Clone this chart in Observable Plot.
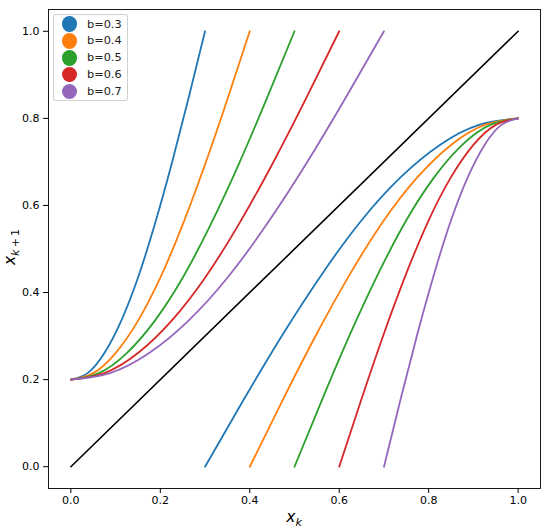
<!DOCTYPE html>
<html>
<head>
<meta charset="utf-8">
<script src="https://cdn.jsdelivr.net/npm/d3@7"></script>
<script src="https://cdn.jsdelivr.net/npm/@observablehq/plot@0.6"></script>
<style>
  html, body { margin: 0; padding: 0; background: #fff; }
  #wrap { position: relative; width: 550px; height: 530px; font-family: "DejaVu Sans", sans-serif; }
  #legend { position: absolute; left: 53px; top: 14px; width: 75px; height: 87px; box-sizing: border-box;
    border: 1px solid rgba(204,204,204,0.9); border-radius: 3px; background: rgba(255,255,255,0.8); }
  .row { position: absolute; left: 0; width: 73px; height: 17px; }
  .dot { position: absolute; left: 7.5px; top: 0.75px; width: 15.5px; height: 15.5px; border-radius: 50%; }
  .lab { position: absolute; left: 33px; top: 0; font-size: 11.3px; color: #222; white-space: nowrap; line-height: 17px; }
</style>
</head>
<body>
<div id="wrap"></div>
<script>
// ---- data ----
const bValues = [0.3, 0.4, 0.5, 0.6, 0.7];
const bLabels = ["b=0.3", "b=0.4", "b=0.5", "b=0.6", "b=0.7"];
const colors = ["#1f77b4", "#ff7f0e", "#2ca02c", "#d62728", "#9467bd"];

// left branch: from (0, 0.2) up to (b, 1.0)
const leftY = [0.2, 0.215, 0.261, 0.335, 0.434, 0.556, 0.694, 0.844, 1.0];
const leftX03 = [0, 0.0375, 0.075, 0.1125, 0.15, 0.1875, 0.225, 0.2625, 0.3];
const leftX04 = [0, 0.05, 0.1, 0.15, 0.2, 0.25, 0.3, 0.35, 0.4];
const leftX05 = [0, 0.0625, 0.125, 0.1875, 0.25, 0.3125, 0.375, 0.4375, 0.5];
const leftX06 = [0, 0.075, 0.15, 0.225, 0.3, 0.375, 0.45, 0.525, 0.6];
const leftX07 = [0, 0.0875, 0.175, 0.2625, 0.35, 0.4375, 0.525, 0.6125, 0.7];

// right branch: from (b, 0) up to (1, 0.8)
const rightY = [0, 0.156, 0.306, 0.444, 0.566, 0.665, 0.739, 0.785, 0.8];
const rightX03 = [0.3, 0.3875, 0.475, 0.5625, 0.65, 0.7375, 0.825, 0.9125, 1.0];
const rightX04 = [0.4, 0.475, 0.55, 0.625, 0.7, 0.775, 0.85, 0.925, 1.0];
const rightX05 = [0.5, 0.5625, 0.625, 0.6875, 0.75, 0.8125, 0.875, 0.9375, 1.0];
const rightX06 = [0.6, 0.65, 0.7, 0.75, 0.8, 0.85, 0.9, 0.95, 1.0];
const rightX07 = [0.7, 0.7375, 0.775, 0.8125, 0.85, 0.8875, 0.925, 0.9625, 1.0];

// identity line
const diagX = [0, 1];
const diagY = [0, 1];

const ticks = [0, 0.2, 0.4, 0.6, 0.8, 1.0];

// ---- build table ----
const leftXs = [leftX03, leftX04, leftX05, leftX06, leftX07];
const rightXs = [rightX03, rightX04, rightX05, rightX06, rightX07];
const rows = [];
bLabels.forEach((lab, i) => {
  leftXs[i].forEach((x, j) => rows.push({b: lab, seg: lab + "L", x, y: leftY[j]}));
  rightXs[i].forEach((x, j) => rows.push({b: lab, seg: lab + "R", x, y: rightY[j]}));
});
const diag = diagX.map((x, i) => ({x, y: diagY[i]}));

const fmt = d3.format(".1f");
const chart = Plot.plot({
  width: 550,
  height: 530,
  marginLeft: 48,
  marginRight: 10,
  marginTop: 9,
  marginBottom: 42,
  style: {fontFamily: "DejaVu Sans, sans-serif", fontSize: "11px", color: "#000", background: "#fff"},
  x: {domain: [-0.05, 1.05]},
  y: {domain: [-0.05, 1.05]},
  color: {domain: bLabels, range: colors},
  marks: [
    Plot.line(diag, {x: "x", y: "y", stroke: "#000", strokeWidth: 1.6}),
    Plot.line(rows, {x: "x", y: "y", z: "seg", stroke: "b", strokeWidth: 1.8, curve: "natural"}),
    Plot.frame({stroke: "#000", strokeWidth: 0.9}),
    Plot.axisX({ticks, tickFormat: fmt, tickSize: 5, tickPadding: 3, label: null, fontSize: 11}),
    Plot.axisY({ticks, tickFormat: fmt, tickSize: 5, tickPadding: 4, label: null, fontSize: 11})
  ]
});
const wrap = document.getElementById("wrap");
wrap.appendChild(chart);

// axis titles (mathtext-like)
const svg = d3.select(chart);
const xt = svg.append("text")
  .attr("x", 294).attr("y", 522)
  .attr("text-anchor", "middle")
  .attr("font-family", "DejaVu Sans, sans-serif")
  .attr("font-size", 15.5)
  .attr("fill", "#000");
xt.append("tspan").attr("font-style", "italic").text("x");
xt.append("tspan").attr("font-style", "italic").attr("font-size", 11).attr("dy", 3.5).text("k");

const yt = svg.append("text")
  .attr("transform", "translate(15,247) rotate(-90)")
  .attr("text-anchor", "middle")
  .attr("font-family", "DejaVu Sans, sans-serif")
  .attr("font-size", 15.5)
  .attr("fill", "#000");
yt.append("tspan").attr("font-style", "italic").text("x");
yt.append("tspan").attr("font-style", "italic").attr("font-size", 11).attr("dy", 3.5).text("k");
yt.append("tspan").attr("font-size", 11).text("\u2009+\u20091");

// legend
const legend = document.createElement("div");
legend.id = "legend";
bLabels.forEach((lab, i) => {
  const row = document.createElement("div");
  row.className = "row";
  row.style.top = (0.5 + i * 16.9) + "px";
  const dot = document.createElement("div");
  dot.className = "dot";
  dot.style.background = colors[i];
  const t = document.createElement("div");
  t.className = "lab";
  t.textContent = lab;
  row.appendChild(dot);
  row.appendChild(t);
  legend.appendChild(row);
});
wrap.appendChild(legend);
</script>
</body>
</html>
